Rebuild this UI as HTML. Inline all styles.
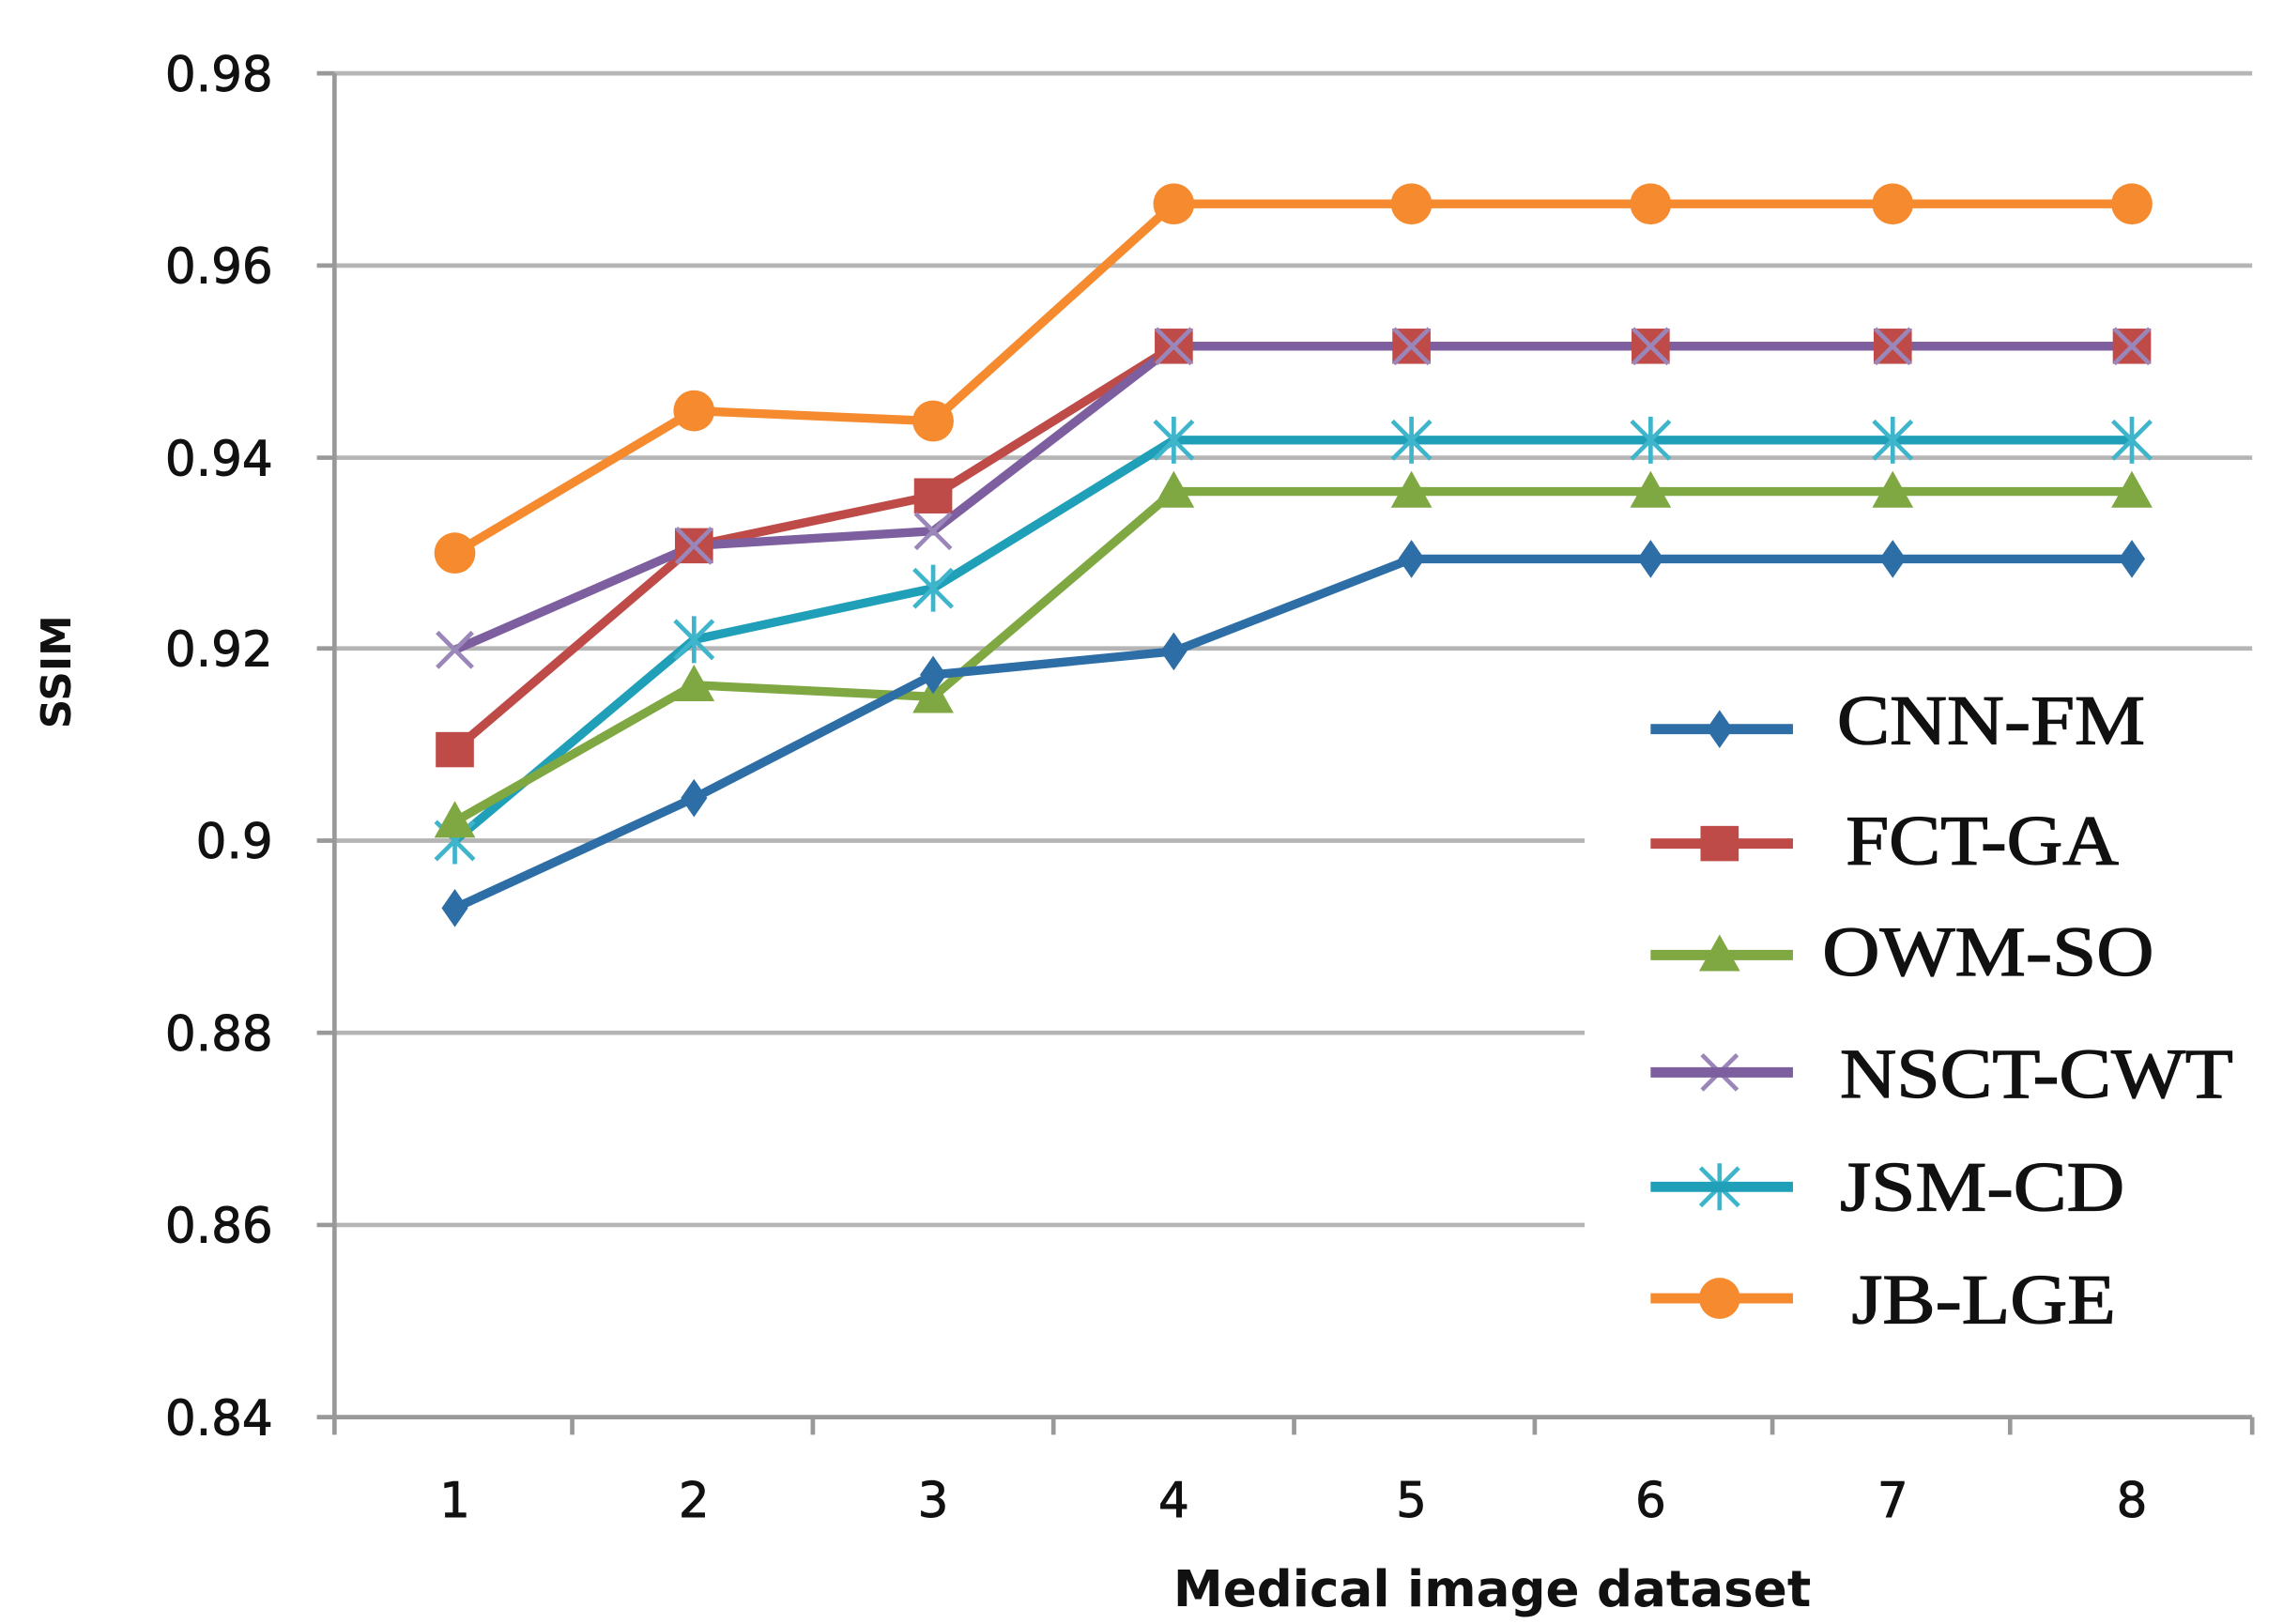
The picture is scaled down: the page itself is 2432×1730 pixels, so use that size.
<!DOCTYPE html>
<html><head><meta charset="utf-8"><style>html,body{margin:0;padding:0;background:#fff}svg{display:block}</style></head>
<body>
<svg width="2432" height="1730" viewBox="0 0 1556 1107" preserveAspectRatio="none" xmlns="http://www.w3.org/2000/svg">
<rect width="1556" height="1107" fill="#fff"/>
<g stroke="#b5b5b5" stroke-width="3">
<line x1="228" y1="50" x2="1535" y2="50"/>
<line x1="228" y1="181" x2="1535" y2="181"/>
<line x1="228" y1="312" x2="1535" y2="312"/>
<line x1="228" y1="442" x2="1535" y2="442"/>
<line x1="228" y1="573" x2="1080" y2="573"/>
<line x1="228" y1="704" x2="1080" y2="704"/>
<line x1="228" y1="835" x2="1080" y2="835"/>
</g>
<g stroke="#999" stroke-width="3">
<line x1="228" y1="50" x2="228" y2="966"/>
<line x1="216" y1="966" x2="1535" y2="966"/>
<line x1="216" y1="50" x2="228" y2="50"/><line x1="216" y1="181" x2="228" y2="181"/><line x1="216" y1="312" x2="228" y2="312"/><line x1="216" y1="442" x2="228" y2="442"/><line x1="216" y1="573" x2="228" y2="573"/><line x1="216" y1="704" x2="228" y2="704"/><line x1="216" y1="835" x2="228" y2="835"/>
<line x1="228" y1="966" x2="228" y2="978"/><line x1="390" y1="966" x2="390" y2="978"/><line x1="554" y1="966" x2="554" y2="978"/><line x1="718" y1="966" x2="718" y2="978"/><line x1="882" y1="966" x2="882" y2="978"/><line x1="1046" y1="966" x2="1046" y2="978"/><line x1="1208" y1="966" x2="1208" y2="978"/><line x1="1370" y1="966" x2="1370" y2="978"/><line x1="1535" y1="966" x2="1535" y2="978"/>
</g>
<g font-family="DejaVu Sans, Liberation Sans, sans-serif" font-size="33" fill="#111" stroke="#111" stroke-width="0.6" text-anchor="end">
<text x="186" y="62">0.98</text><text x="186" y="193">0.96</text><text x="186" y="324">0.94</text><text x="186" y="454">0.92</text><text x="186" y="585">0.9</text><text x="186" y="716">0.88</text><text x="186" y="847">0.86</text><text x="186" y="978">0.84</text>
</g>
<g font-family="DejaVu Sans, Liberation Sans, sans-serif" font-size="33" fill="#111" text-anchor="middle">
<g stroke="#111" stroke-width="0.6">
<text x="310" y="1034">1</text><text x="473" y="1034">2</text><text x="636" y="1034">3</text><text x="800" y="1034">4</text><text x="962" y="1034">5</text><text x="1125" y="1034">6</text><text x="1290" y="1034">7</text><text x="1453" y="1034">8</text>
</g>
<text x="1017" y="1095" font-weight="bold" font-size="34">Medical image dataset</text>
<text transform="translate(48,458) rotate(-90)" font-weight="bold" font-size="28">SSIM</text>
</g>
<defs>
<path id="dia" d="M0,-13 L9,0 L0,13 L-9,0Z"/>
<rect id="sq" x="-13" y="-12" width="26" height="24"/>
<path id="tri" d="M0,-14 L14,11 L-14,11Z"/>
<path id="xx" d="M-12,-12 L12,12 M-12,12 L12,-12" stroke-width="3"/>
<path id="st" d="M-13,-13 L13,13 M-13,13 L13,-13 M0,-16 L0,16" stroke-width="3"/>
<circle id="ci" r="14"/>
</defs>
<g fill="none" stroke-width="6" stroke-linejoin="round">
<polyline stroke="#f58a2e" points="310,377 473,280 636,287 800,139 962,139 1125,139 1290,139 1453,139"/>
<polyline stroke="#be4b48" points="310,511 473,372 636,338 800,236 962,236 1125,236 1290,236 1453,236"/>
<polyline stroke="#7d5fa0" points="310,443 473,372 636,362 800,236 962,236 1125,236 1290,236 1453,236"/>
<polyline stroke="#1fa0b8" points="310,573 473,436 636,401 800,300 962,300 1125,300 1290,300 1453,300"/>
<polyline stroke="#7fa843" points="310,560 473,467 636,475 800,335 962,335 1125,335 1290,335 1453,335"/>
<polyline stroke="#2e6ea6" points="310,619 473,544 636,460 800,444 962,381 1125,381 1290,381 1453,381"/>
</g>
<g fill="#f58a2e"><use href="#ci" x="310" y="377"/><use href="#ci" x="473" y="280"/><use href="#ci" x="636" y="287"/><use href="#ci" x="800" y="139"/><use href="#ci" x="962" y="139"/><use href="#ci" x="1125" y="139"/><use href="#ci" x="1290" y="139"/><use href="#ci" x="1453" y="139"/><use href="#ci" x="1172" y="885"/></g>
<g fill="#be4b48"><use href="#sq" x="310" y="511"/><use href="#sq" x="473" y="372"/><use href="#sq" x="636" y="338"/><use href="#sq" x="800" y="236"/><use href="#sq" x="962" y="236"/><use href="#sq" x="1125" y="236"/><use href="#sq" x="1290" y="236"/><use href="#sq" x="1453" y="236"/><use href="#sq" x="1172" y="575"/></g>
<g stroke="#9a86b8" fill="none"><use href="#xx" x="310" y="443"/><use href="#xx" x="473" y="372"/><use href="#xx" x="636" y="362"/><use href="#xx" x="800" y="236"/><use href="#xx" x="962" y="236"/><use href="#xx" x="1125" y="236"/><use href="#xx" x="1290" y="236"/><use href="#xx" x="1453" y="236"/><use href="#xx" x="1172" y="731"/></g>
<g stroke="#3fb5cc" fill="none"><use href="#st" x="310" y="573"/><use href="#st" x="473" y="436"/><use href="#st" x="636" y="401"/><use href="#st" x="800" y="300"/><use href="#st" x="962" y="300"/><use href="#st" x="1125" y="300"/><use href="#st" x="1290" y="300"/><use href="#st" x="1453" y="300"/><use href="#st" x="1172" y="809"/></g>
<g fill="#7fa843"><use href="#tri" x="310" y="560"/><use href="#tri" x="473" y="467"/><use href="#tri" x="636" y="475"/><use href="#tri" x="800" y="335"/><use href="#tri" x="962" y="335"/><use href="#tri" x="1125" y="335"/><use href="#tri" x="1290" y="335"/><use href="#tri" x="1453" y="335"/><use href="#tri" x="1172" y="651"/></g>
<g fill="#2e6ea6"><use href="#dia" x="310" y="619"/><use href="#dia" x="473" y="544"/><use href="#dia" x="636" y="460"/><use href="#dia" x="800" y="444"/><use href="#dia" x="962" y="381"/><use href="#dia" x="1125" y="381"/><use href="#dia" x="1290" y="381"/><use href="#dia" x="1453" y="381"/><use href="#dia" x="1172" y="497"/></g>
<g stroke-width="7">
<line x1="1125" y1="497" x2="1222" y2="497" stroke="#2e6ea6"/>
<line x1="1125" y1="575" x2="1222" y2="575" stroke="#be4b48"/>
<line x1="1125" y1="651" x2="1222" y2="651" stroke="#7fa843"/>
<line x1="1125" y1="731" x2="1222" y2="731" stroke="#7d5fa0"/>
<line x1="1125" y1="809" x2="1222" y2="809" stroke="#1fa0b8"/>
<line x1="1125" y1="885" x2="1222" y2="885" stroke="#f58a2e"/>
</g>
<g font-family="Liberation Serif, serif" font-size="48" fill="#111" stroke="#111" stroke-width="0.8">
<text x="1252" y="507" textLength="210" lengthAdjust="spacingAndGlyphs">CNN-FM</text>
<text x="1258" y="589" textLength="186" lengthAdjust="spacingAndGlyphs">FCT-GA</text>
<text x="1242" y="665" textLength="226" lengthAdjust="spacingAndGlyphs">OWM-SO</text>
<text x="1254" y="748" textLength="268" lengthAdjust="spacingAndGlyphs">NSCT-CWT</text>
<text x="1254" y="825" textLength="194" lengthAdjust="spacingAndGlyphs">JSM-CD</text>
<text x="1262" y="902" textLength="180" lengthAdjust="spacingAndGlyphs">JB-LGE</text>
</g>
</svg>
</body></html>
